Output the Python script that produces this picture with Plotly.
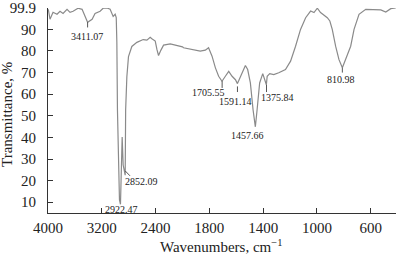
import plotly.graph_objects as go

# ---- data ----
wavenumber = [3996, 3970, 3925, 3866, 3821, 3776, 3717, 3672, 3627, 3553, 3493, 3449, 3411,
              3344, 3300, 3225, 3180, 3121, 3076, 3031, 3001, 2985, 2976, 2967, 2952, 2937,
              2922, 2908, 2897, 2882, 2867, 2852, 2845, 2827, 2803, 2753, 2678, 2584, 2529,
              2480, 2455, 2405, 2380, 2356, 2320, 2281, 2182, 2082, 2000, 1992, 1917, 1868,
              1830, 1806, 1780, 1755, 1731, 1706, 1681, 1656, 1631, 1606, 1591, 1557, 1532,
              1515, 1495, 1475, 1458, 1445, 1426, 1403, 1390, 1376, 1370, 1351, 1321, 1284,
              1234, 1196, 1159, 1122, 1084, 1047, 1022, 997, 973, 948, 923, 904, 886, 861,
              836, 811, 786, 749, 724, 687, 637, 575, 525, 488, 451, 414]
transmittance = [99.3, 94.7, 97.9, 97.0, 98.4, 97.4, 99.3, 97.9, 98.4, 99.8, 99.3, 96.0, 93.3,
                 94.7, 97.4, 98.4, 99.8, 99.9, 99.3, 96.0, 97.0, 95.5, 84.0, 52.8, 21.6, 11.0,
                 9.0, 24.9, 40.2, 27.2, 23.5, 22.5, 52.8, 68.1, 77.4, 82.1, 84.0, 85.3, 85.0,
                 86.3, 85.7, 84.6, 80.7, 77.9, 80.4, 82.7, 83.3, 82.7, 81.9, 81.5, 80.4, 79.9,
                 80.4, 81.5, 77.6, 72.2, 68.3, 66.0, 68.3, 70.6, 68.3, 66.7, 64.9, 69.9, 73.3,
                 71.4, 65.2, 52.8, 44.9, 52.8, 65.2, 69.5, 67.3, 64.4, 68.3, 69.5, 69.1, 69.9,
                 71.4, 75.3, 82.2, 90.0, 95.4, 98.5, 97.8, 99.8, 97.8, 96.5, 95.4, 93.9, 90.0, 82.2,
                 76.0, 72.2, 76.0, 82.2, 90.0, 97.0, 99.3, 99.3, 99.0, 98.0, 99.6, 99.9]

x_ticks = [4000, 3200, 2400, 1800, 1400, 1000, 600]
y_ticks = [10, 20, 30, 40, 50, 60, 70, 80, 90, 99.9]

peak_labels = ["3411.07", "2922.47", "2852.09", "1705.55", "1591.14", "1457.66", "1375.84", "810.98"]
peak_pos = [3411, 2922, 2852, 1705, 1591, 1457, 1375, 811]          # where each label belongs
label_x = [3416, 2904, 2606, 1808, 1609, 1516, 1297, 819]           # text centre (wavenumber)
label_y = [86.9, 6.6, 19.4, 60.8, 56.7, 41.0, 58.3, 66.8]           # text centre (transmittance)
leader_top = [93.3, None, 24.5, 66.0, 63.6, None, 64.4, 72.2]
leader_bot = [90.9, None, 22.2, 62.9, 61.0, None, 61.0, 70.0]
leader_end_x = [3411, None, 2780, 1705, 1591, None, 1375, 811]


def scale(w):
    """Instrument scale: 4000-2000 cm-1 compressed by half."""
    return w if w <= 2000 else 2000 + (w - 2000) / 2.0


FONT = "Liberation Serif"
fig = go.Figure()
fig.add_trace(go.Scatter(x=[scale(w) for w in wavenumber], y=transmittance, mode="lines",
                         line=dict(color="#8a8a8a", width=1.2), showlegend=False,
                         hoverinfo="skip"))

for txt, p, lx, ly, t1, t2, ex in zip(peak_labels, peak_pos, label_x, label_y,
                                      leader_top, leader_bot, leader_end_x):
    fig.add_annotation(x=scale(lx), y=ly, text=txt, showarrow=False, xanchor="center",
                       yanchor="middle", font=dict(family=FONT, size=10, color="#222"))
    if t1 is not None:
        fig.add_shape(type="line", x0=scale(p), y0=t1, x1=scale(ex), y1=t2,
                      line=dict(color="#444", width=0.9))

fig.add_annotation(xref="paper", yref="paper", x=0.497, y=-0.161, text="Wavenumbers, cm<sup>−1</sup>",
                   showarrow=False, xanchor="center", yanchor="middle",
                   font=dict(family=FONT, size=15, color="#222"))
fig.add_annotation(xref="paper", yref="paper", x=-0.118, y=0.483, text="Transmittance, %",
                   showarrow=False, xanchor="center", yanchor="middle", textangle=-90,
                   font=dict(family=FONT, size=15, color="#222"))

fig.update_layout(
    width=396, height=259,
    margin=dict(l=48, r=0, t=8, b=46),
    plot_bgcolor="white", paper_bgcolor="white",
    font=dict(family=FONT, size=15, color="#222"),
    xaxis=dict(range=[scale(4000), scale(412)], tickvals=[scale(v) for v in x_ticks],
               ticktext=[str(v) for v in x_ticks], ticks="inside", ticklen=5,
               tickcolor="#333", showline=True, linecolor="#333", linewidth=1,
               showgrid=False, zeroline=False, ticklabelstandoff=1, automargin=False),
    yaxis=dict(range=[5, 99.9], tickvals=y_ticks, ticktext=[str(v) for v in y_ticks],
               ticks="inside", ticklen=5, tickcolor="#333", showline=True, linecolor="#333",
               linewidth=1, showgrid=False, zeroline=False, ticklabelstandoff=8,
               automargin=False),
)

fig.write_html("out.html", config={"displayModeBar": False},
               post_script="document.body.style.margin='0';document.body.style.padding='0';")
